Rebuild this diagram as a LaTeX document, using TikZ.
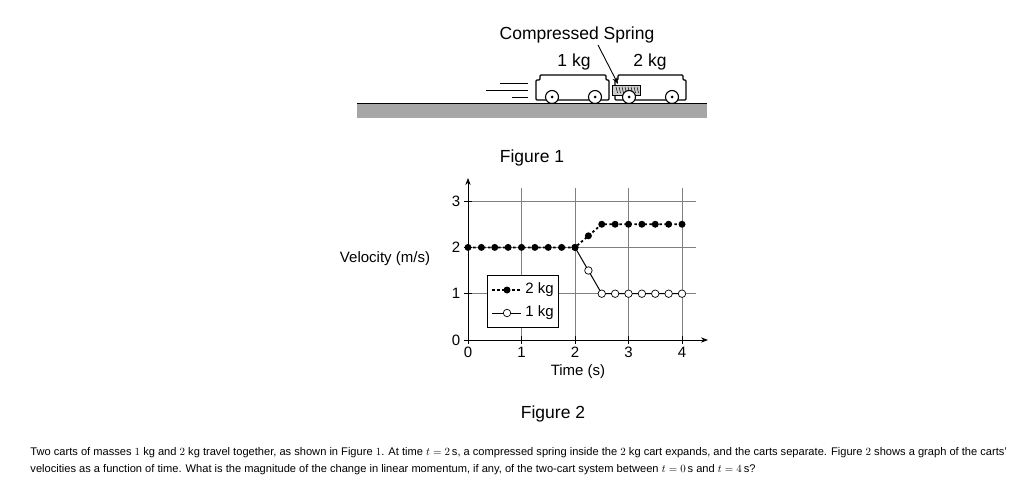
\documentclass[tikz,border=0pt]{standalone}
\usepackage{fontspec}
\setmainfont{Liberation Sans}
\usetikzlibrary{arrows.meta}
\begin{document}
\begin{tikzpicture}[x=1pt,y=-1pt,line width=0.9pt,
  lbl/.style={font=\fontsize{15}{16}\selectfont,inner sep=0},
  big/.style={font=\fontsize{17.5}{18}\selectfont,inner sep=0},
  wheel/.style={draw,fill=white,line width=1.1pt},
  fd/.style={circle,fill=black,inner sep=0,minimum size=7pt},
  od/.style={circle,draw,fill=white,inner sep=0,minimum size=7.5pt,line width=0.7pt}]
\useasboundingbox (0,0) rectangle (1024,481);
% ground
\fill[gray!70] (357,103) rectangle (707,118);
\draw (357,103) -- (707,103);
% speed lines
\draw (500,83) -- (528,83) (486,90) -- (528,90) (512,97) -- (528,97);
% carts
\draw[line width=1.1pt,rounded corners=1pt] (536,100) -- (536,80) -- (540,80) -- (540,75) -- (606,75) -- (606,80) -- (609,80) -- (609,100) -- cycle;
\draw[line width=1.1pt,rounded corners=1pt] (615,100) -- (615,80) -- (618,80) -- (618,75) -- (683,75) -- (683,80) -- (686,80) -- (686,100) -- cycle;
\draw[fill=black!20] (612,85) rectangle (640,95);
\foreach \i in {0,...,7} \draw[line width=0.5pt] (616+3*\i,87) -- (617.5+3*\i,93);
\foreach \x in {552,595,629,672} {\draw[wheel] (\x,97) circle (6.5); \fill (\x,97) circle (1.5);}
\node[big] (cs) at (577,35) {Compressed Spring};
\node[big] (k1) at (574,62) {1 kg};
\node[big] (k2) at (650,62) {2 kg};
\coordinate (sp) at (618,84);
\draw[-{Stealth[length=7pt]}] (598,45) -- (sp);
\node[big] (f1) at (532,158) {Figure 1};
% graph
\foreach \i in {1,...,4} \draw[gray,line width=0.6pt] (468+53.5*\i,340) -- (468+53.5*\i,188);
\foreach \j in {1,2,3} \draw[gray,line width=0.6pt] (468,340-46.3*\j) -- (696,340-46.3*\j);
\draw[-{Stealth[length=7pt]}] (468,340) -- (708,340);
\draw[-{Stealth[length=7pt]}] (468,340) -- (468,178);
\foreach \i in {0,...,4} {\draw (468+53.5*\i,336) -- (468+53.5*\i,344); \node[lbl] at (468+53.5*\i,352) {\i};}
\foreach \j in {0,...,3} {\draw (464,340-46.3*\j) -- (472,340-46.3*\j); \node[lbl] at (456,340-46.3*\j) {\j};}
\node[lbl] (vl) at (385,259) {Velocity (m/s)};
\node[lbl] (tl) at (578,372) {Time (s)};
% 2kg
\draw[line width=1.8pt,dash pattern=on 2.5pt off 2.5pt] (468,247.4) -- (575,247.4) -- (601.75,224.25) -- (682,224.25);
\foreach \i in {0,...,8} \node[fd] at (468+13.375*\i,247.4) {};
\node[fd] at (588.4,235.8) {};
\foreach \i in {0,...,6} \node[fd] at (601.75+13.375*\i,224.25) {};
% 1kg
\draw[line width=1pt] (575,247.4) -- (601.75,293.7) -- (682,293.7);
\node[od] at (588.4,270.5) {};
\foreach \i in {0,...,6} \node[od] at (601.75+13.375*\i,293.7) {};
\node[fd] at (575,247.4) {};
% legend
\draw[fill=white] (487,275) rectangle (558,327);
\draw[line width=1.8pt,dash pattern=on 2.5pt off 2.5pt] (492,290) -- (521,290);
\node[fd] at (507,290) {};
\draw[line width=1pt] (492,313) -- (521,313);
\node[od] at (507,313) {};
\node[lbl,anchor=west] at (525,290) {2 kg};
\node[lbl,anchor=west] at (525,313) {1 kg};
\node[big] (f2) at (553,414) {Figure 2};
% text
\node[lbl,anchor=west,font=\fontsize{11.1}{12}\selectfont] at (30,453) {Two carts of masses $1$ kg and $2$ kg travel together, as shown in Figure $1$. At time $t=2$\,s, a compressed spring inside the $2$ kg cart expands, and the carts separate. Figure $2$ shows a graph of the carts'};
\node[lbl,anchor=west,font=\fontsize{11.1}{12}\selectfont] at (30,470) {velocities as a function of time. What is the magnitude of the change in linear momentum, if any, of the two-cart system between $t=0$\,s and $t=4$\,s?};
\end{tikzpicture}
\end{document}
